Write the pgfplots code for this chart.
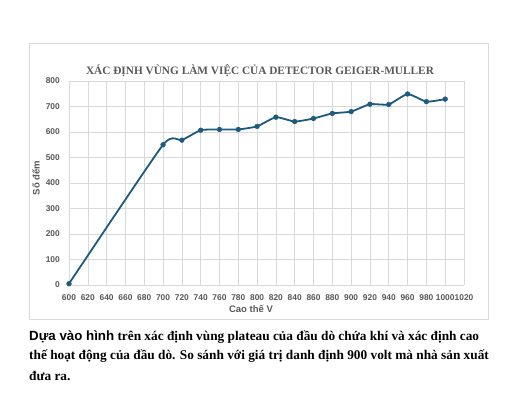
\documentclass[border=0pt]{standalone}
\usepackage{pgfplots}
\pgfplotsset{compat=1.18}
\usepackage{fontspec}
\setmainfont{Liberation Serif}
\newfontfamily\arial{Liberation Sans}
\definecolor{linec}{HTML}{1D5B7E}
\definecolor{gridc}{HTML}{D9D9D9}
\definecolor{txtc}{HTML}{595959}
\begin{document}
\begin{tikzpicture}
\path[use as bounding box, fill=white] (0,0) rectangle (510bp,400bp);
\draw[gridc, line width=0.8bp] (29bp,81bp) rectangle (488bp,357bp);
\node[font=\bfseries\fontsize{11.3bp}{13bp}\selectfont, text=txtc, anchor=base] at (260bp,325bp) {XÁC ĐỊNH VÙNG LÀM VIỆC CỦA DETECTOR GEIGER-MULLER};
\begin{axis}[
  scale only axis, width=395bp, height=204bp,
  at={(69bp,115bp)}, anchor=south west,
  xmin=600, xmax=1020, ymin=0, ymax=800,
  xtick distance=20, ytick distance=100,
  grid=major, grid style={gridc, line width=0.6bp},
  axis line style={gridc, line width=0.6bp},
  axis x line*=bottom, axis y line*=left,
  major tick length=0pt,
  tick style={draw=none},
  ticklabel style={font=\arial\bfseries\fontsize{8.4bp}{9bp}\selectfont, text=txtc, inner sep=0pt},
  /pgf/number format/assume math mode=true,
  /pgf/number format/set thousands separator={},
  xticklabel style={anchor=north, yshift=-9bp},
  yticklabel style={anchor=east, xshift=-9bp},
  clip=false,
]
\addplot[linec, line width=1.8bp, smooth, tension=0.3, mark=*, mark size=2.4bp, mark options={fill=linec, draw=linec, line width=0.4bp, solid}] coordinates {
(600,5) (700,550) (720,568) (740,607) (760,610) (780,610) (800,622) (820,658) (840,641) (860,653) (880,673) (900,680) (920,709) (940,708) (960,749) (980,719) (1000,729)
};
\end{axis}
\node[font=\arial\bfseries\fontsize{9.5bp}{10bp}\selectfont, text=txtc, rotate=90] at (36bp,222bp) {Số đếm};
\node[font=\arial\bfseries\fontsize{9.5bp}{10bp}\selectfont, text=txtc] at (251bp,91bp) {Cao thế V};
\node[anchor=base west, inner sep=0pt, font=\bfseries\fontsize{13.3bp}{20bp}\selectfont] at (29bp,59.3bp) {{\arial Dựa vào hình} trên xác định vùng plateau của đầu dò chứa khí và xác định cao};
\node[anchor=base west, inner sep=0pt, font=\bfseries\fontsize{13.3bp}{20bp}\selectfont] at (29bp,40bp) {thế hoạt động của đầu dò. So sánh với giá trị danh định 900 volt mà nhà sản xuất};
\node[anchor=base west, inner sep=0pt, font=\bfseries\fontsize{13.3bp}{20bp}\selectfont] at (29bp,19.5bp) {đưa ra.};
\end{tikzpicture}
\end{document}
